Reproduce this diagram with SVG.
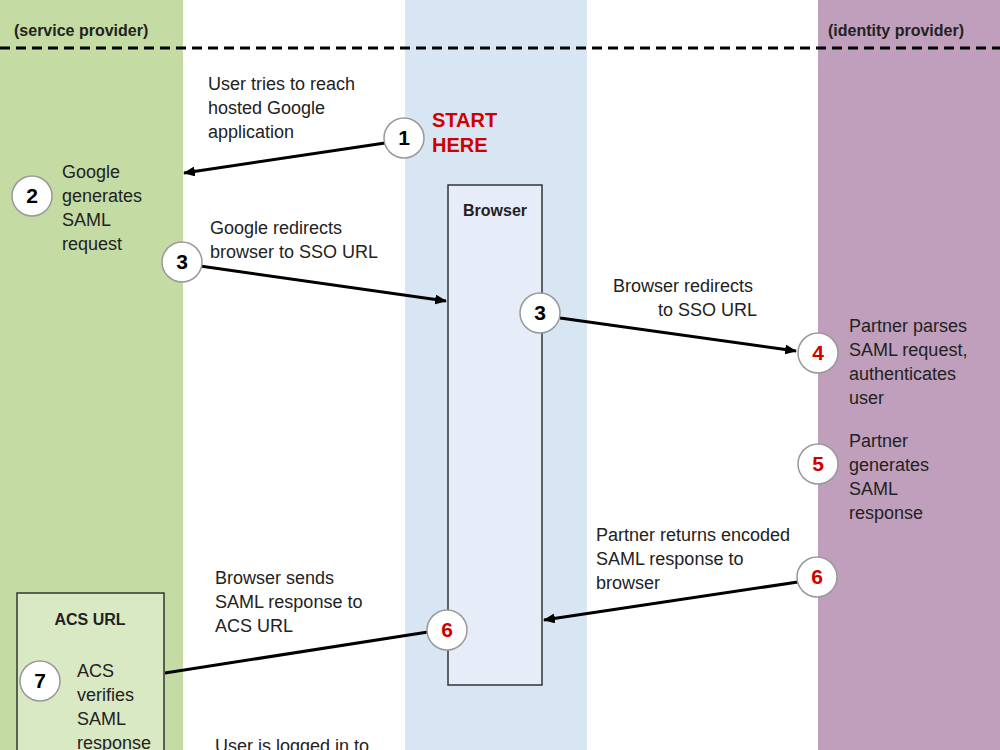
<svg xmlns="http://www.w3.org/2000/svg" width="1000" height="750" viewBox="0 0 1000 750">
<defs>
<marker id="ah" markerWidth="12" markerHeight="10" refX="11" refY="5" orient="auto" markerUnits="userSpaceOnUse"><path d="M0,0 L12,5 L0,10 Z" fill="#000"/></marker>
<style>
text{font-family:"Liberation Sans",Arial,sans-serif;font-size:18px;fill:#222}
.b{font-weight:bold;font-size:16px}
.c{fill:#fff;stroke:#999;stroke-width:1.5}
.n{font-size:21px;font-weight:bold;text-anchor:middle;fill:#000}
.r{fill:#d00000}
.ln{stroke:#000;stroke-width:3;fill:none}
</style>
</defs>
<rect width="1000" height="750" fill="#fff"/>
<rect x="0" y="0" width="183" height="750" fill="#c4dca4"/>
<rect x="405" y="0" width="182" height="750" fill="#d8e6f4"/>
<rect x="818" y="0" width="182" height="750" fill="#bf9fbc"/>
<line x1="0" y1="48" x2="1000" y2="48" stroke="#000" stroke-width="3" stroke-dasharray="10,6"/>
<text x="14" y="36" class="b">(service provider)</text>
<text x="828" y="36" class="b">(identity provider)</text>
<g id="browser"><rect x="448" y="185" width="94" height="500" fill="#e6ecf8" stroke="#333" stroke-width="1.5"/><text x="495" y="216" class="b" text-anchor="middle">Browser</text></g>
<g id="acs"><rect x="17" y="593" width="147" height="170" fill="#d9e9c4" stroke="#333" stroke-width="1.5"/><text x="90" y="625" class="b" text-anchor="middle">ACS URL</text></g>
<g id="connectors">
<line class="ln" x1="385" y1="143" x2="184" y2="173" marker-end="url(#ah)"/>
<line class="ln" x1="200" y1="266" x2="446" y2="301" marker-end="url(#ah)"/>
<line class="ln" x1="560" y1="318" x2="796" y2="351" marker-end="url(#ah)"/>
<line class="ln" x1="798" y1="582" x2="544" y2="620" marker-end="url(#ah)"/>
<line class="ln" x1="428" y1="632" x2="165" y2="673"/>
</g>
<g id="s1"><circle class="c" cx="404" cy="138" r="20"/><text class="n" x="404" y="145">1</text>
<text x="208" y="90">User tries to reach</text><text x="208" y="114">hosted Google</text><text x="208" y="138">application</text>
<text x="432" y="127" class="r" style="font-weight:bold;font-size:20px">START</text><text x="432" y="152" class="r" style="font-weight:bold;font-size:20px">HERE</text></g>
<g id="s2"><circle class="c" cx="32" cy="196" r="20"/><text class="n" x="32" y="203">2</text>
<text x="62" y="178">Google</text><text x="62" y="202">generates</text><text x="62" y="226">SAML</text><text x="62" y="250">request</text></g>
<g id="s3a"><circle class="c" cx="182" cy="262" r="20"/><text class="n" x="182" y="269">3</text>
<text x="210" y="234">Google redirects</text><text x="210" y="258">browser to SSO URL</text></g>
<g id="s3b"><circle class="c" cx="540" cy="313" r="20"/><text class="n" x="540" y="320">3</text>
<text x="613" y="292">Browser redirects</text><text x="658" y="316">to SSO URL</text></g>
<g id="s4"><circle class="c" cx="818" cy="353" r="20"/><text class="n r" x="818" y="360">4</text>
<text x="849" y="332">Partner parses</text><text x="849" y="356">SAML request,</text><text x="849" y="380">authenticates</text><text x="849" y="404">user</text></g>
<g id="s5"><circle class="c" cx="818" cy="464" r="20"/><text class="n r" x="818" y="471">5</text>
<text x="849" y="447">Partner</text><text x="849" y="471">generates</text><text x="849" y="495">SAML</text><text x="849" y="519">response</text></g>
<g id="s6a"><circle class="c" cx="817" cy="577" r="20"/><text class="n r" x="817" y="584">6</text>
<text x="596" y="541">Partner returns encoded</text><text x="596" y="565">SAML response to</text><text x="596" y="589">browser</text></g>
<g id="s6b"><circle class="c" cx="447" cy="630" r="20"/><text class="n r" x="447" y="637">6</text>
<text x="215" y="584">Browser sends</text><text x="215" y="608">SAML response to</text><text x="215" y="632">ACS URL</text></g>
<g id="s7"><circle class="c" cx="40" cy="681" r="20"/><text class="n" x="40" y="688">7</text>
<text x="77" y="677">ACS</text><text x="77" y="701">verifies</text><text x="77" y="725">SAML</text><text x="77" y="749">response</text></g>
<g id="s8"><text x="215" y="752">User is logged in to</text></g>
</svg>
